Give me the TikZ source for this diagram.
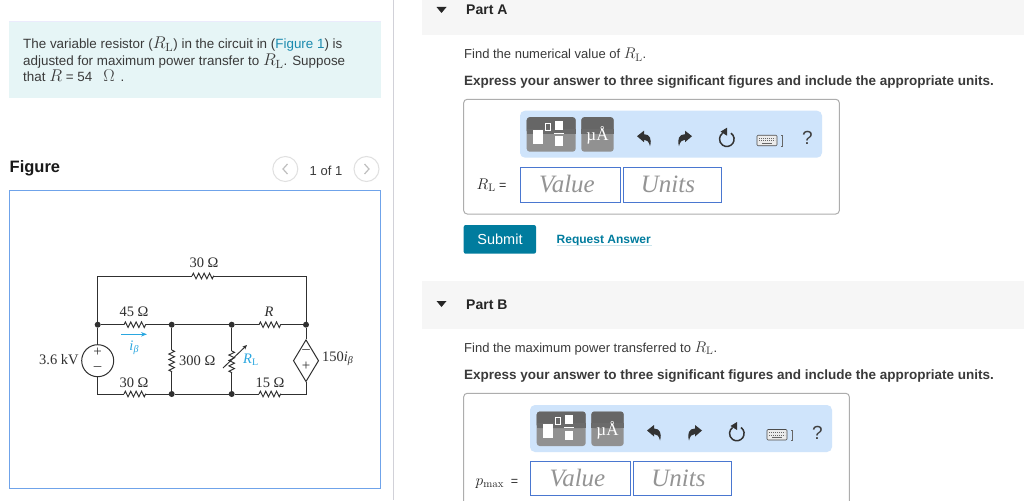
\RequirePackage{fix-cm}
\documentclass[tikz,border=0pt]{standalone}
\usepackage[no-math]{fontspec}
\setmainfont{Liberation Sans}
\newfontfamily\cirfont{Liberation Serif}
\usetikzlibrary{shapes.geometric,decorations.pathmorphing,arrows.meta}
\definecolor{txt}{HTML}{3A3A3A}
\definecolor{panelblue}{HTML}{CFE4FB}
\definecolor{tealbg}{HTML}{E6F5F6}
\definecolor{linkc}{HTML}{1B8AAE}
\definecolor{subm}{HTML}{007C9E}
\definecolor{inbox}{HTML}{4A77D0}
\definecolor{figborder}{HTML}{6FA3EA}
\definecolor{band}{HTML}{F6F6F6}
\definecolor{cirblue}{HTML}{2AA7E0}
\definecolor{cirk}{HTML}{303030}
\newcommand{\fs}[1]{\fontsize{#1}{#1}\selectfont}
\newcommand{\mRL}{{\fs{15.5}$R_{\mathrm{L}}$}}
\newcommand{\mRLb}{{\fs{17}$R_{\mathrm{L}}$}}
\tikzset{
  bodytxt/.style={anchor=base west,inner sep=0,text=txt,font=\fs{13}},
  lefttxt/.style={anchor=base west,inner sep=0,text=txt,font=\fs{13.4}},
  boldtxt/.style={anchor=base west,inner sep=0,text=black!85,font=\fs{14}\bfseries},
  exptxt/.style={anchor=base west,inner sep=0,text=txt,font=\fs{13.5}\bfseries},
  wire/.style={draw=cirk,line width=0.95pt},
  res/.style={draw=cirk,line width=0.95pt,decorate,decoration={zigzag,amplitude=2.8pt,segment length=5.4pt}},
  jn/.style={circle,fill=cirk,inner sep=0,minimum size=6pt},
  cirlab/.style={inner sep=0,text=cirk,font=\cirfont\fs{14.5}},
  sign/.style={inner sep=0,text=cirk,font=\cirfont\fs{15}},
  btndark/.style={fill=black!60},
  btnlight/.style={fill=black!43},
  inputbox/.style={draw=inbox,line width=1pt,fill=white},
  hint/.style={inner sep=0,text=black!42,font=\cirfont\itshape\fs{25}},
  toolbar/.pic={
    \fill[panelblue,rounded corners=5pt] (0,0) rectangle (302,47);
    \fill[btnlight,rounded corners=3pt] (6.7,6.5) rectangle (55.7,41);
    \fill[btndark,rounded corners=3pt] (6.7,6.5) rectangle (55.7,23);
    \fill[black!58] (6.7,18) rectangle (55.7,23);
    \fill[btnlight,rounded corners=3pt] (61.3,6.5) rectangle (93.7,41);
    \fill[btndark,rounded corners=3pt] (61.3,6.5) rectangle (93.7,23);
    \fill[black!58] (61.3,18) rectangle (93.7,23);
    \fill[white] (13.3,19.3) rectangle (23.3,33.3);
    \draw[white,line width=0.6pt] (25.3,12.3) rectangle (30.7,19.5);
    \fill[white] (35,10) rectangle (43,19.3);
    \fill[white] (34,22) rectangle (44,23);
    \fill[white] (35,25.5) rectangle (43,35);
    \node[inner sep=0,text=white,font=\cirfont\fs{17}] (mu) at (77.5,25) {µÅ};
    \begin{scope}[yshift=-4.5pt]
    \fill[black!80] (117,21) -- (124,15.5) -- (124,19) .. controls (130,19) and (132,24) .. (130,31) .. controls (129,26.5) and (127,24.5) .. (124,24.5) -- (124,27) -- cycle;
    \end{scope}
    \begin{scope}[xshift=289pt,yshift=-4.5pt,xscale=-1]
    \fill[black!80] (117,21) -- (124,15.5) -- (124,19) .. controls (130,19) and (132,24) .. (130,31) .. controls (129,26.5) and (127,24.5) .. (124,24.5) -- (124,27) -- cycle;
    \end{scope}
    \draw[black!80,line width=1.5pt] (211,22.5) arc (-55:235:7.3);
    \fill[black!80] (200.5,21) -- (207,17) -- (207,25) -- cycle;
    \draw[black!70,fill=black!8,rounded corners=1pt,line width=0.6pt] (237,24.5) rectangle (257,35);
    \draw[black!60,line width=1pt,dash pattern=on 1.2pt off 0.8pt] (239,27.5) -- (255,27.5) (239,30) -- (255,30);
    \draw[black!60,line width=0.9pt] (242,32.7) -- (252,32.7);
    \draw[black!60,line width=0.7pt] (261,25) -- (262.5,25) -- (262.5,35.5) -- (261,35.5);
    \node[inner sep=0,text=black!75,font=\fs{19}] (qm) at (287.5,27.5) {?};
  }
}
\begin{document}
\begin{tikzpicture}[x=1pt,y=-1pt]
\useasboundingbox (0,0) rectangle (1024,500);
\fill[white] (0,0) rectangle (1024,500);
% left panel
\draw[blue!15!black!18,line width=1pt] (393.8,0) -- (393.8,500);
\fill[tealbg] (9,21.7) rectangle (380.7,98.3);
\draw[black!15!blue!8!white,line width=0.7pt] (9,21.7) -- (380.7,21.7);
\node[lefttxt] (t1) at (23,48.8) {The variable resistor (\mRLb) in the circuit in ({\color{linkc}Figure 1}) is};
\node[lefttxt] (t2) at (23,65.5) {adjusted for maximum power transfer to \mRLb. Suppose};
\node[lefttxt] (t3) at (23,81.7) {that {\fs{17}$R$} = 54 \ \ {\fs{17}$\Omega$} \,.};
\node[anchor=base west,inner sep=0,text=black!90,font=\fs{16.5}\bfseries] (fig) at (9.5,172) {Figure};
\draw[black!12,line width=1pt,fill=white] (285.3,169) circle (12.5);
\draw[black!12,line width=1pt,fill=white] (366.5,169) circle (12.5);
\draw[black!25,line width=1.2pt] (287.5,164) -- (283,169) -- (287.5,174);
\draw[black!25,line width=1.2pt] (364.5,164) -- (369,169) -- (364.5,174);
\node[inner sep=0,text=txt,font=\fs{13}] (pg) at (326,171.3) {1 of 1};
\draw[draw=figborder,line width=1pt] (9,190.3) rectangle (380.7,488);
% circuit
\coordinate (tl) at (97.7,276); \coordinate (tr) at (306,276);
\coordinate (r1a) at (192,276); \coordinate (r1b) at (214,276);
\coordinate (r2a) at (124,324.7); \coordinate (r2b) at (146,324.7);
\coordinate (r3a) at (259,324.7); \coordinate (r3b) at (281,324.7);
\coordinate (r4a) at (124,394); \coordinate (r4b) at (146,394);
\coordinate (r5a) at (259,394); \coordinate (r5b) at (281,394);
\coordinate (r6a) at (171.7,350); \coordinate (r6b) at (171.7,372);
\coordinate (r7a) at (231.7,351); \coordinate (r7b) at (231.7,373);
\coordinate (bl) at (97.7,394); \coordinate (br) at (306,394);
\coordinate (va) at (223,368); \coordinate (vb) at (247,345);
\coordinate (ia) at (121,334.3); \coordinate (ib) at (147,334.3);
\node[jn] (n1) at (97.7,324.7) {};
\node[jn] (n2) at (171.7,324.7) {};
\node[jn] (n3) at (231.7,324.7) {};
\node[jn] (n4) at (306,324.7) {};
\node[jn] (n5) at (171.7,394) {};
\node[jn] (n6) at (231.7,394) {};
\node[circle,draw=cirk,line width=1pt,inner sep=0,minimum size=32pt] (vs) at (97.7,360.7) {};
\node[diamond,draw=cirk,line width=1pt,inner sep=0,minimum width=25.4pt,minimum height=42pt] (ds) at (306,360.7) {};
\draw[wire] (n1) -- (tl) -- (r1a) (r1b) -- (tr) -- (n4);
\draw[wire] (n1) -- (r2a) (r2b) -- (n2) -- (n3) -- (r3a) (r3b) -- (n4);
\draw[wire] (n1) -- (vs.north) (vs.south) -- (bl) -- (r4a) (r4b) -- (n5) -- (n6) -- (r5a) (r5b) -- (br) -- (ds.south) (ds.north) -- (n4);
\draw[wire] (n2) -- (r6a) (r6b) -- (n5) (n3) -- (r7a) (r7b) -- (n6);
\draw[res] (r1a) -- (r1b); \draw[res] (r2a) -- (r2b); \draw[res] (r3a) -- (r3b);
\draw[res] (r4a) -- (r4b); \draw[res] (r5a) -- (r5b); \draw[res] (r6a) -- (r6b); \draw[res] (r7a) -- (r7b);
\draw[wire,-{Stealth[length=4.5pt,width=4pt]}] (va) -- (vb);
\draw[draw=cirblue,line width=1pt,-{Stealth[length=6pt,width=4.5pt]}] (ia) -- (ib);
\node[cirlab] (l1) at (204,263) {30 Ω};
\node[cirlab] (l2) at (134,311.5) {45 Ω};
\node[cirlab] (l3) at (269,311.5) {\itshape R};
\node[cirlab] (l4) at (134,383) {30 Ω};
\node[cirlab] (l5) at (270,383) {15 Ω};
\node[cirlab,anchor=west] (l6) at (179,360.5) {300 Ω};
\node[cirlab,anchor=west,text=cirblue] (l7) at (243,359.5) {{\itshape R}\raisebox{-2pt}{\fs{10}L}};
\node[cirlab,anchor=west] (l8) at (39,360) {3.6 kV};
\node[cirlab,anchor=west] (l9) at (322,358.5) {150{\itshape i}\raisebox{-2pt}{\fs{10}\itshape β}};
\node[cirlab,text=cirblue] (l10) at (134,348) {{\itshape i}\raisebox{-2pt}{\fs{10}\itshape β}};
\node[sign] (s1) at (97.7,352.7) {+};
\node[sign] (s2) at (97.7,368.5) {–};
\node[sign] (s3) at (306,351.5) {–};
\node[sign] (s4) at (306,366.7) {+};
% bands
\fill[band] (422,0) rectangle (1024,35);
\fill[band] (422,281) rectangle (1024,329);
\fill[black!85] (436.5,7) -- (446.5,7) -- (441.5,13) -- cycle;
\fill[black!85] (436.5,301) -- (446.5,301) -- (441.5,307) -- cycle;
\node[boldtxt] (pa) at (466,15) {Part A};
\node[boldtxt] (pb) at (466,309) {Part B};
% part A
\node[bodytxt] (a1) at (464,59) {Find the numerical value of \mRL.};
\node[exptxt] (a2) at (464,85.5) {Express your answer to three significant figures and include the appropriate units.};
\draw[black!32,line width=1pt,fill=white,rounded corners=3.5pt] (463.7,99.3) rectangle (839.3,214);
\pic at (520,110.7) {toolbar};
\node[anchor=base west,inner sep=0,text=black!85,font=\fs{12.5}] (la) at (476.5,189.5) {\mRL\ =};
\draw[inputbox] (520.3,167.7) rectangle (620.3,202);
\draw[inputbox] (623,167.7) rectangle (721.7,202);
\node[hint] (va1) at (567,184.5) {Value};
\node[hint] (un1) at (668,184.5) {Units};
\fill[subm,rounded corners=2pt] (463.7,225) rectangle (536,253.7);
\node[inner sep=0,text=white,font=\fs{14.5}] (sb) at (500,239.3) {Submit};
\node[anchor=base west,inner sep=0,text=subm,font=\fs{12}\bfseries] (ra) at (556.5,243) {Request Answer};
\draw[subm!20!white,line width=0.8pt] (556.5,245.3) -- (651.5,245.3);
% part B
\node[bodytxt] (b1) at (464,352.5) {Find the maximum power transferred to \mRL.};
\node[exptxt] (b2) at (464,379.5) {Express your answer to three significant figures and include the appropriate units.};
\draw[black!32,line width=1pt,rounded corners=3.5pt] (463.7,501) -- (463.7,393.3) -- (849.3,393.3) -- (849.3,501);
\pic at (530,405) {toolbar};
\node[anchor=base west,inner sep=0,text=black!85,font=\fs{12.5}] (lb) at (475.5,485) {{\fs{15.5}$p_{\mathrm{max}}$}\ \ =};
\draw[inputbox] (530.7,461.7) rectangle (630.7,495.7);
\draw[inputbox] (633,461.7) rectangle (731.7,495.7);
\node[hint] (va2) at (577.5,478.5) {Value};
\node[hint] (un2) at (678.5,478.5) {Units};
\end{tikzpicture}
\end{document}
